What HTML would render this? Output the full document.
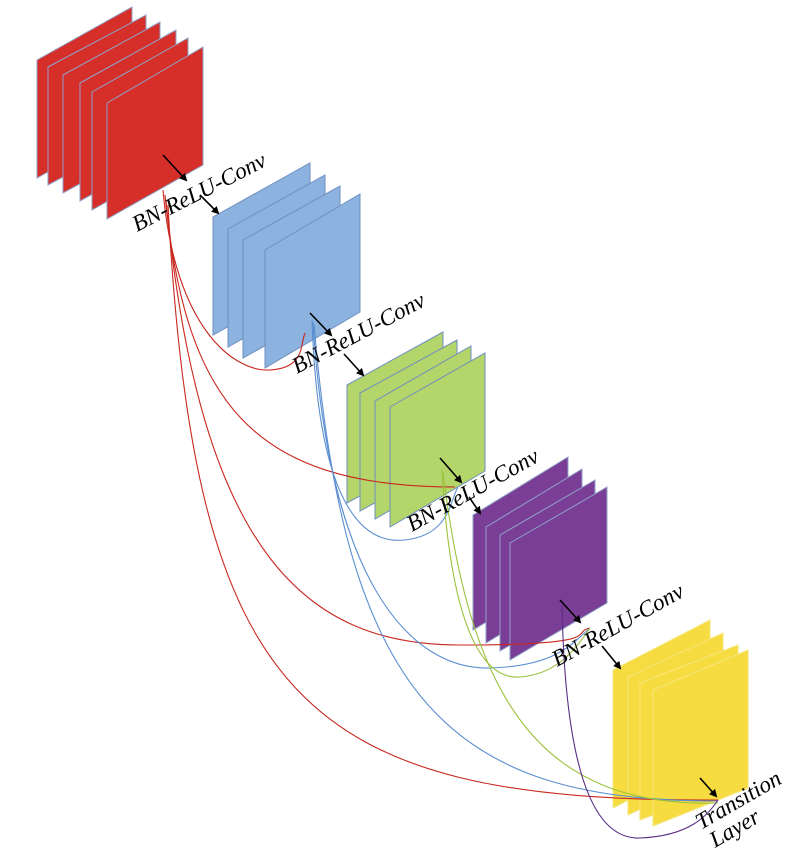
<!DOCTYPE html>
<html><head><meta charset="utf-8"><style>html,body{margin:0;padding:0;background:#fff}svg{display:block}</style></head>
<body>
<svg width="794" height="853" viewBox="0 0 794 853" xmlns="http://www.w3.org/2000/svg">
<defs>
<marker id="ab" markerWidth="8" markerHeight="8" refX="6" refY="4" orient="auto" markerUnits="userSpaceOnUse"><path d="M0,0 L8,4 L0,8 z" fill="#000"/></marker>
</defs>
<g stroke="#8fa3c8" stroke-width="1">
<g fill="#d62e29">
<polygon points="37,60 132,7 132,125 37,178"/>
<polygon points="48,67 146,15 146,133 48,185"/>
<polygon points="63,75 160,22 160,140 63,193"/>
<polygon points="80,83 176,30 176,148 80,201"/>
<polygon points="92,92 188,38 188,156 92,210"/>
<polygon points="107,103 203,47 203,165 107,219"/>
</g>
<g fill="#8cb2e0" stroke="#6f8fc0">
<polygon points="213,217 310,163 310,281 213,335"/>
<polygon points="228,229 325,175 325,293 228,347"/>
<polygon points="243,240 340,186 340,304 243,358"/>
<polygon points="265,250 360,194 360,312 265,368"/>
</g>
<g fill="#b4d56a" stroke="#6f8fc0">
<polygon points="347,385 443,332 443,450 347,503"/>
<polygon points="360,393 457,340 457,458 360,511"/>
<polygon points="375,401 471,346 471,464 375,519"/>
<polygon points="390,407 485,353 485,471 390,527"/>
</g>
<g fill="#7a3e96" stroke="#8fa3c8">
<polygon points="473,515 568,457 568,573 473,630"/>
<polygon points="486,527 582,469 582,585 486,643"/>
<polygon points="500,535 595,480 595,596 500,651"/>
<polygon points="510,543 607,487 607,603 510,660"/>
</g>
<g fill="#f6dc40" stroke="#f6e67a">
<polygon points="613,670 710,620 710,757 613,808"/>
<polygon points="628,677 723,633 723,770 628,815"/>
<polygon points="640,683 738,645 738,782 640,820"/>
<polygon points="653,690 748,650 748,788 653,826"/>
</g>
</g>
<g fill="none" stroke-width="1.1">
<g stroke="#c8281f">
<path d="M163,190 C175,330 235,372 270,370 S300,345 305,333"/>
<path d="M165,195 C185,400 250,487 455,487"/>
<path d="M166,200 C200,560 310,645 460,645 S570,632 590,628"/>
<path d="M168,205 C195,700 300,802 718,800"/>
</g>
<g stroke="#5b8fd0">
<path d="M312,320 C318,500 360,545 405,540 S450,500 458,487"/>
<path d="M313,322 C330,600 420,670 490,668 S575,640 590,628"/>
<path d="M314,324 C345,700 450,802 718,801"/>
</g>
<g stroke="#9cc23e">
<path d="M442,470 C450,620 480,680 520,677 S578,645 590,628"/>
<path d="M443,472 C470,700 540,808 718,803"/>
</g>
<g stroke="#5a2d86">
<path d="M562,605 C565,760 590,840 640,838 S708,815 718,800"/>
</g>
</g>
<g stroke="#000" stroke-width="1.6" marker-end="url(#ab)">
<line x1="163" y1="155" x2="186" y2="180"/>
<line x1="200" y1="195" x2="218" y2="213"/>
<line x1="310" y1="313" x2="331" y2="335"/>
<line x1="344" y1="354" x2="363" y2="375"/>
<line x1="440" y1="458" x2="461" y2="482"/>
<line x1="469" y1="497" x2="480" y2="513"/>
<line x1="560" y1="600" x2="580" y2="622"/>
<line x1="602" y1="646" x2="620" y2="668"/>
<line x1="700" y1="778" x2="716" y2="796"/>
</g>
<g font-family="'Liberation Serif', serif" font-style="italic" font-size="23" fill="#000">
<text transform="translate(137,232) rotate(-27)">BN-ReLU-Conv</text>
<text transform="translate(297,374) rotate(-28)">BN-ReLU-Conv</text>
<text transform="translate(412,532) rotate(-29)">BN-ReLU-Conv</text>
<text transform="translate(557,667) rotate(-29)">BN-ReLU-Conv</text>
<text transform="translate(701,830) rotate(-30)">Transition</text>
<text transform="translate(715,848) rotate(-30)">Layer</text>
</g>
</svg>
</body></html>
